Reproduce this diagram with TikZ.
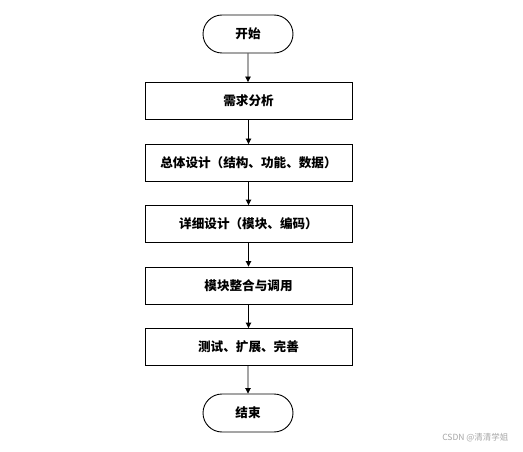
\documentclass[tikz,border=0pt]{standalone}
\usepackage{fontspec}
\newfontfamily\cjk{Noto Sans CJK SC}
\usetikzlibrary{arrows.meta,shapes.misc}
\begin{document}
\begin{tikzpicture}[x=1pt,y=-1pt,
  proc/.style={draw=black,line width=0.9pt,minimum width=207pt,minimum height=37pt,inner sep=0pt,font=\cjk\bfseries\fontsize{12.6}{14}\selectfont},
  term/.style={draw=black,line width=0.9pt,rounded rectangle,minimum width=90pt,minimum height=38pt,inner sep=0pt,font=\cjk\bfseries\fontsize{12.6}{14}\selectfont},
  flow/.style={draw=black,line width=0.9pt,-{Triangle[length=5.5pt,width=5.5pt]}}]
\useasboundingbox (0,0) rectangle (523,452);
\fill[white] (0,0) rectangle (523,452);
\node[term] (s) at (248,34) {开始};
\node[proc] (a) at (248.5,101) {需求分析};
\node[proc] (b) at (248.5,163) {总体设计（结构、功能、数据）};
\node[proc] (c) at (248.5,224) {详细设计（模块、编码）};
\node[proc] (d) at (248.5,285.5) {模块整合与调用};
\node[proc] (e) at (248.5,347) {测试、扩展、完善};
\node[term] (t) at (248,413) {结束};
\draw[flow] (s) -- (s|-a.north);
\draw[flow] (a) -- (b);
\draw[flow] (b) -- (c);
\draw[flow] (c) -- (d);
\draw[flow] (d) -- (e);
\draw[flow] (e.south-|t) -- (t);
\node[font=\cjk\fontsize{8.5}{10}\selectfont,text=black!35,anchor=east] (w) at (512,438) {CSDN @清清学姐};
\end{tikzpicture}
\end{document}
